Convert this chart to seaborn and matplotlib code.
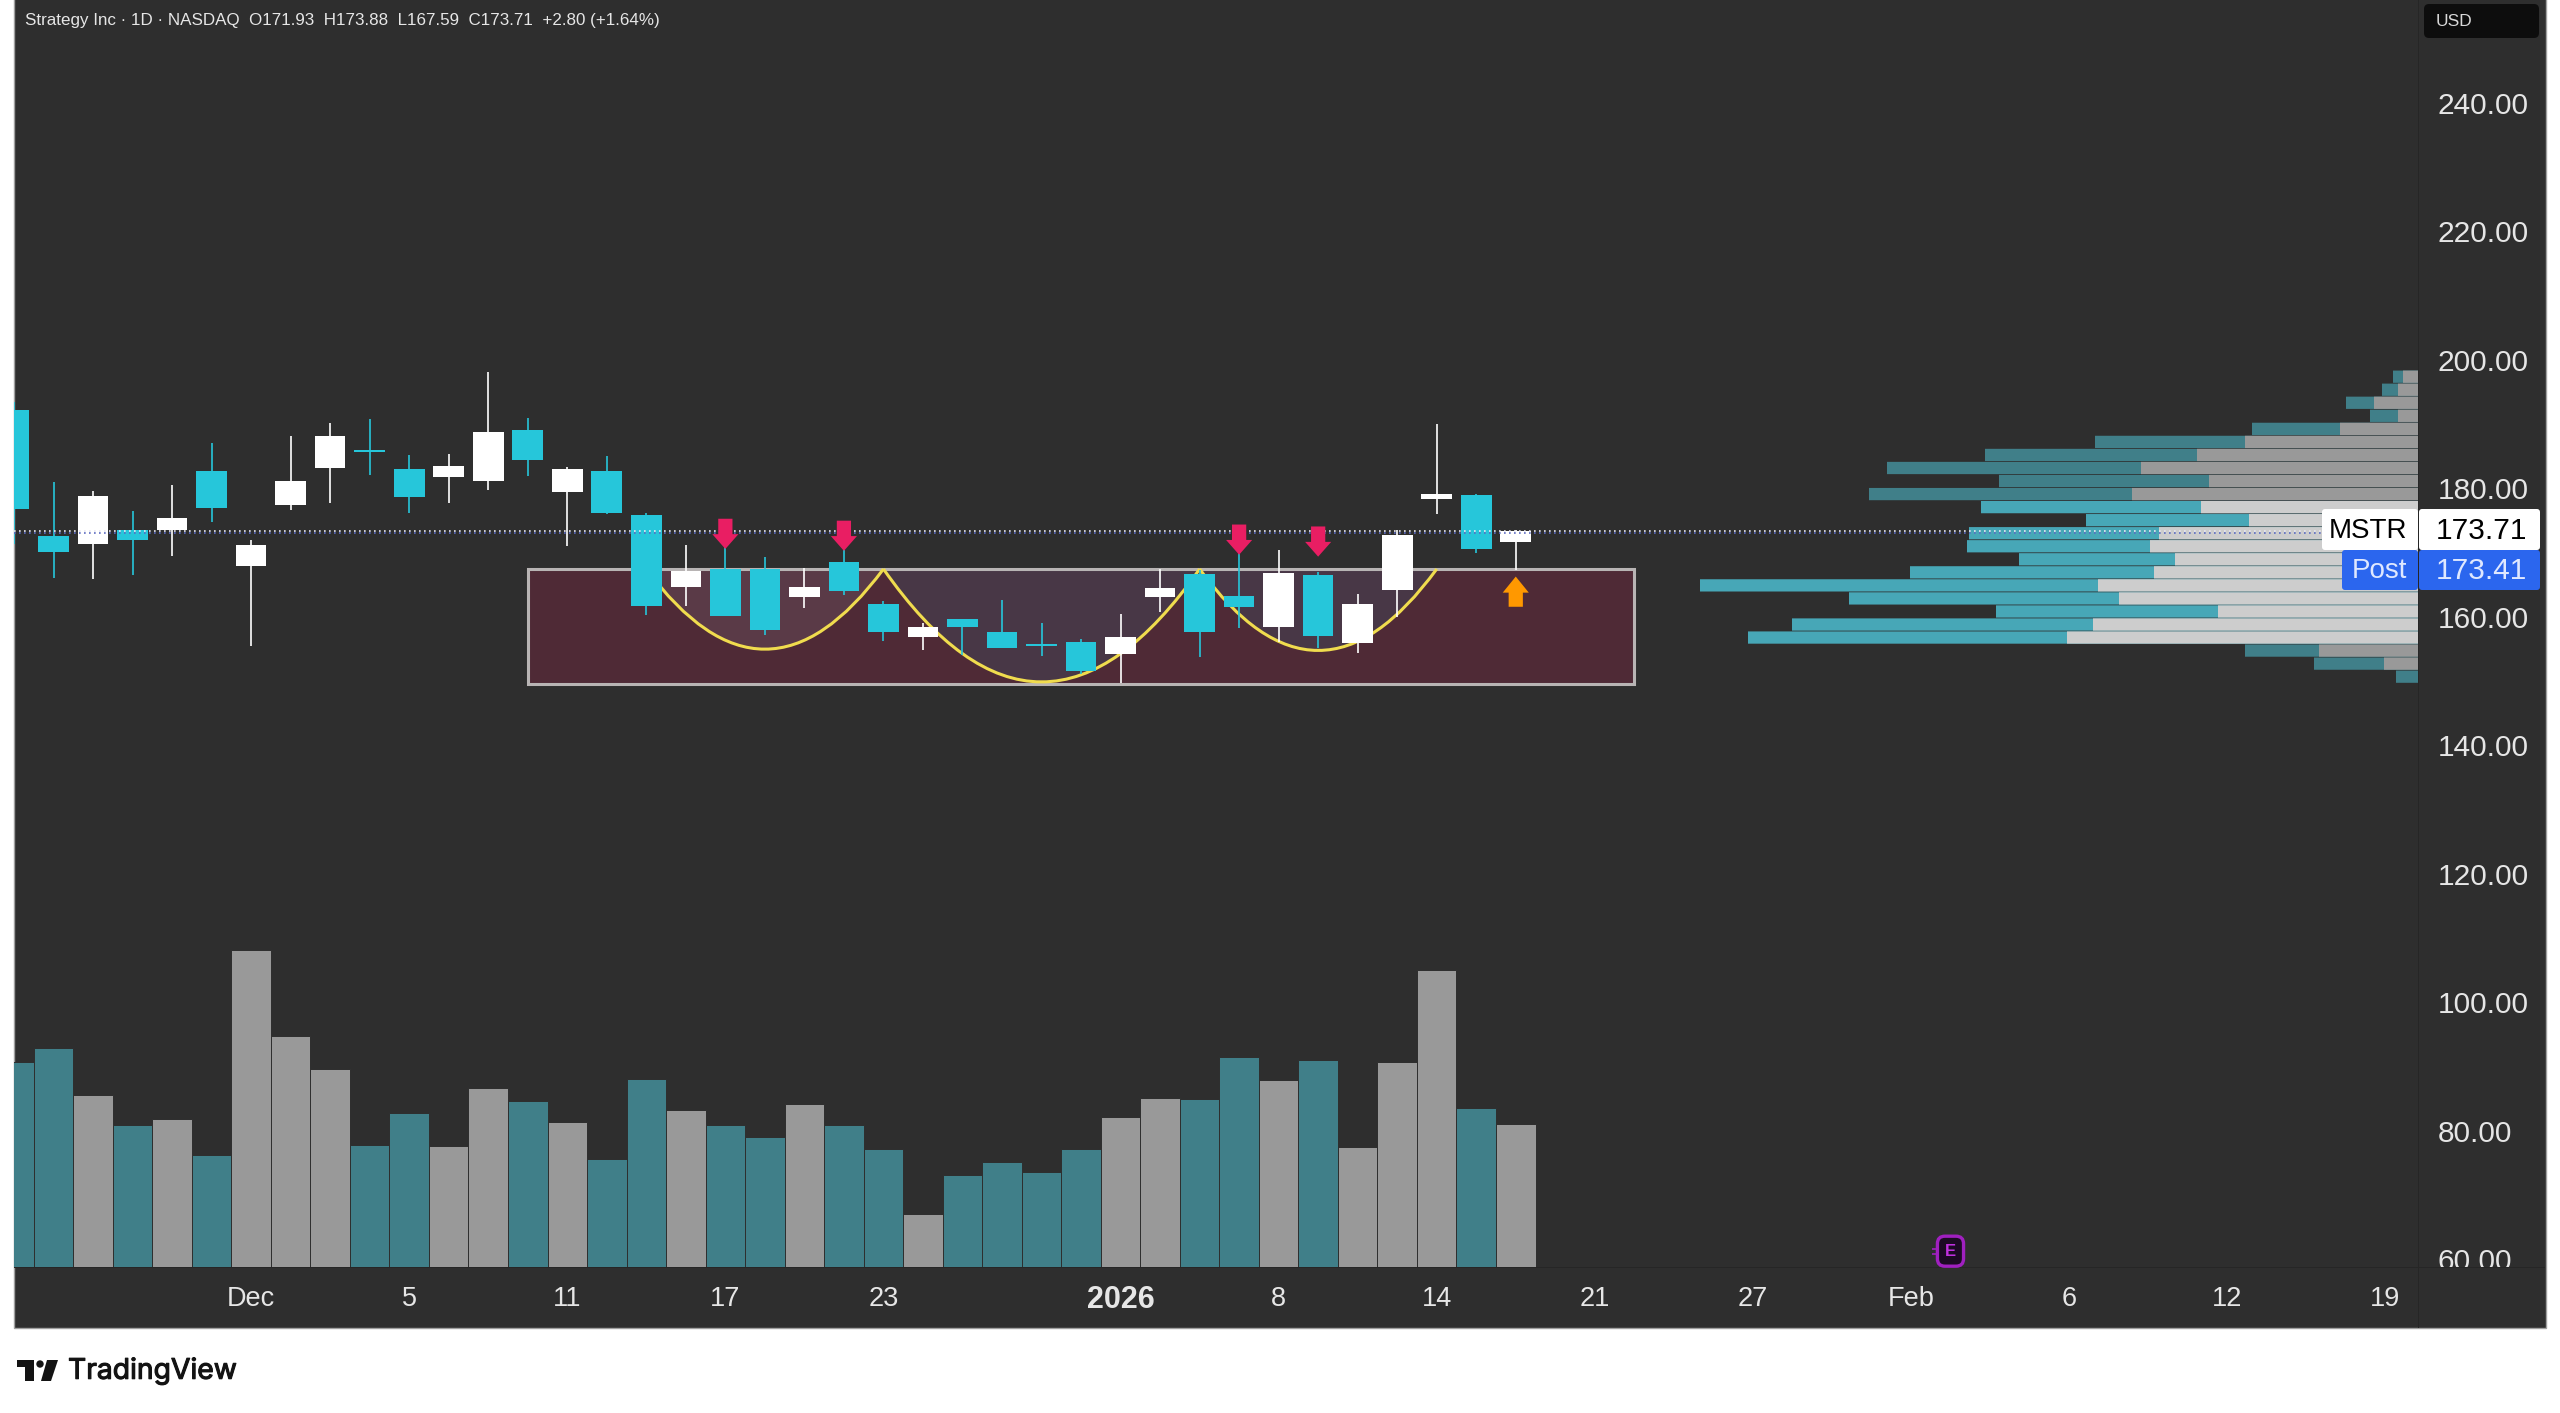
#%%
import matplotlib.pyplot as plt
import matplotlib.patches as mpatches
import matplotlib.patheffects as pe
from matplotlib.path import Path
from matplotlib.transforms import Bbox, IdentityTransform, ScaledTranslation
import numpy as np
import pandas as pd
import seaborn as sns

#%% candles, oldest first (white = up, cyan = down)
highs = [193.82, 181.37, 179.92, 176.86, 180.80, 187.44, 172.29, 188.48, 190.55, 191.07,
         185.47, 185.68, 198.49, 191.23, 183.65, 185.31, 176.55, 171.57, 171.25, 169.65,
         167.89, 170.74, 162.81, 159.33, 160.00, 162.96, 159.43, 156.94, 160.83, 167.73,
         167.63, 170.23, 170.69, 167.32, 163.84, 173.86, 190.35, 179.41, 173.88]
body_tops = [192.53, 172.86, 179.19, 173.85, 175.66, 183.08, 171.57, 181.42, 188.48, 186.25,
             183.39, 183.86, 189.15, 189.46, 183.39, 183.08, 176.13, 167.52, 167.83, 167.83,
             164.93, 168.93, 162.34, 158.71, 159.95, 157.98, 156.06, 156.37, 157.20, 164.83,
             167.01, 163.53, 167.11, 166.80, 162.34, 173.08, 179.46, 179.25, 173.71]
body_bottoms = [177.12, 170.48, 171.62, 172.24, 173.80, 177.22, 168.19, 177.79, 183.45, 186.04,
                178.98, 182.15, 181.47, 184.74, 179.81, 176.44, 162.02, 164.92, 160.41, 158.23,
                163.48, 164.31, 157.93, 157.15, 158.76, 155.44, 155.85, 151.96, 154.56, 163.48,
                157.93, 161.82, 158.71, 157.36, 156.27, 164.47, 178.63, 170.95, 171.93]
lows = [171.67, 166.33, 166.17, 166.90, 169.85, 175.15, 155.74, 177.01, 178.00, 182.41,
        176.44, 178.10, 180.07, 182.30, 171.41, 176.34, 160.62, 162.02, 160.41, 157.51,
        161.66, 163.74, 156.58, 155.18, 154.40, 155.44, 154.25, 151.44, 149.99, 161.04,
        154.09, 158.55, 156.48, 155.44, 154.76, 160.37, 176.29, 170.22, 167.59]
is_up = [0, 0, 1, 0, 1, 0, 1, 1, 1, 0, 0, 1, 1, 0, 1, 0, 0, 1, 0, 0,
         1, 0, 0, 1, 0, 0, 0, 0, 1, 1, 0, 0, 1, 0, 1, 1, 1, 0, 1]

# volume, the scale is a guess, the picture has no volume axis
volumes = [20.5, 21.9, 17.2, 14.2, 14.8, 11.2, 31.7, 23.1, 19.8, 12.2,
           15.4, 12.1, 17.9, 16.6, 14.5, 10.8, 18.8, 15.7, 14.2, 13.0,
           16.3, 14.2, 11.8, 5.3, 9.2, 10.5, 9.5, 11.8, 15.0, 16.9,
           16.8, 21.0, 18.7, 20.7, 12.0, 20.5, 29.7, 15.9, 14.3]
vol_up = [0, 0, 1, 0, 1, 0, 1, 1, 1, 0, 0, 1, 1, 0, 1, 0, 0, 1, 0, 0,
          1, 0, 0, 1, 0, 0, 0, 0, 1, 1, 0, 0, 1, 0, 1, 1, 1, 0, 1]

# volume profile rows, top to bottom
vp_price = [197.71, 195.68, 193.65, 191.62, 189.59, 187.56, 185.53, 183.50, 181.47, 179.44, 177.41, 175.38,
            173.35, 171.32, 169.29, 167.26, 165.23, 163.20, 161.17, 159.14, 157.11, 155.08, 153.05, 151.02]
vp_up = [15, 20, 44, 20, 78, 173, 221, 277, 209, 286, 217, 169,
         259, 268, 243, 264, 320, 299, 200, 325, 351, 99, 34, 0]
vp_down = [10, 16, 28, 28, 88, 150, 212, 254, 210, 263, 220, 163,
           190, 183, 156, 244, 398, 270, 222, 301, 319, 74, 70, 22]
vp_in_area = [0, 0, 0, 0, 0, 0, 0, 0, 0, 0, 1, 1, 1, 1, 1, 1, 1, 1, 1, 1, 1, 0, 0, 0]

# x labels sit on bar numbers
xtick_pos = [6, 10, 14, 18, 22, 28, 32, 36, 40, 44, 48, 52, 56, 60]
xtick_labels = ['Dec', '5', '11', '17', '23', '2026', '8', '14', '21', '27', 'Feb', '6', '12', '19']
ytick_vals = [60, 80, 100, 120, 140, 160, 180, 200, 220, 240]

# drawings on the chart
box_x = [13, 41]
box_y = [149.95, 167.78]
arc_start = [16, 22, 30]
arc_end = [22, 30, 36]
arc_low = [155.3, 150.2, 155.1]
arc_fill = ['#5a3a47', '#483746', '#483746']
down_arrow_x = [18, 21, 31, 33]
down_arrow_tip = [170.9, 170.6, 170.0, 169.7]
up_arrow_x = [38]
up_arrow_tip = [166.6]

last_price = 173.71
post_price = 173.41

bg = '#2e2e2e'
cyan = '#26c6da'

#%%
sns.set_theme(style='dark', rc={'axes.facecolor': bg, 'text.color': '#e6e6e6'})
plt.rcParams['font.family'] = ['Liberation Sans', 'DejaVu Sans']

W, H = 2560, 1413
fig = plt.figure(figsize=(W / 100, H / 100), dpi=100, facecolor='white')
pos = [14 / W, 1 - 1267 / H, (2418 - 14) / W, 1267 / H]
xlim = (0, 60.83)
ylim = (59.14, 256.34)


# boxes that are not data, given in pixels from the top left
def px_box(x0, y0, x1, y1, color, ec='none', lw=0, z=2, round_px=0):
    style = 'round,pad=0,rounding_size=%d' % round_px if round_px else 'square,pad=0'
    p = mpatches.FancyBboxPatch((x0, H - y1), x1 - x0, y1 - y0, boxstyle=style, fc=color, ec=ec,
                                lw=lw, transform=IdentityTransform(), zorder=z)
    fig.add_artist(p)


px_box(14, -5, 2545.5, 1328, bg, ec='#a0a0a0', lw=1, z=-2)
px_box(2417.5, 0, 2418.5, 1328, '#262626', z=-1)
px_box(14, 1267, 2545, 1268, '#262626', z=-1)

#%% volume behind everything
vol_ax = fig.add_axes(pos)
vol_df = pd.DataFrame({'bar': np.arange(len(volumes)), 'volume': volumes,
                       'side': ['up' if u else 'down' for u in vol_up]})
sns.barplot(data=vol_df, x='bar', y='volume', hue='side', hue_order=['up', 'down'],
            palette={'up': '#999999', 'down': '#407f89'}, dodge=False, native_scale=True,
            width=1, saturation=1, edgecolor=bg, linewidth=0.7, legend=False, ax=vol_ax)
vol_ax.set_xlim(xlim)
vol_ax.set_ylim(0, 126.7)
vol_ax.set_axis_off()

#%% profile, right anchored, 1 unit = 1 pixel
vp_ax = fig.add_axes(pos)
vp_ax.patch.set_visible(False)
vp_df = pd.DataFrame({'price': vp_price, 'up': vp_up, 'down': vp_down,
                      'area': ['in' if a else 'out' for a in vp_in_area]})
vp_df['total'] = vp_df['up'] + vp_df['down']
sns.barplot(data=vp_df, y='price', x='total', hue='area', hue_order=['in', 'out'], orient='y',
            palette={'in': '#47a7b7', 'out': '#407f89'}, dodge=False, native_scale=True,
            width=0.94, saturation=1, linewidth=0, legend=False, ax=vp_ax)
sns.barplot(data=vp_df, y='price', x='up', hue='area', hue_order=['in', 'out'], orient='y',
            palette={'in': '#cdcdcd', 'out': '#999999'}, dodge=False, native_scale=True,
            width=0.94, saturation=1, linewidth=0, legend=False, ax=vp_ax)
# snapping makes the row gaps uneven
for p in vp_ax.patches:
    p.set_snap(False)
vp_ax.set_xlim(2404, 0)
vp_ax.set_ylim(ylim)
vp_ax.set_axis_off()

#%% price pane
ax = fig.add_axes(pos)
ax.patch.set_visible(False)
idx = np.arange(len(highs))
colors = ['white' if u else cyan for u in is_up]

# box and arcs
ax.add_patch(mpatches.Rectangle((box_x[0], box_y[0]), box_x[1] - box_x[0], box_y[1] - box_y[0],
                                fc='#4f2a36', ec='none', zorder=1))
for x0, x1, low, fill in zip(arc_start, arc_end, arc_low, arc_fill):
    ctrl = ((x0 + x1) / 2, 2 * low - box_y[1])
    verts = [(x0, box_y[1]), ctrl, (x1, box_y[1])]
    ax.add_patch(mpatches.PathPatch(Path(verts + [verts[0]], [1, 3, 3, 79]),
                                    fc=fill, ec='none', zorder=1.5))
    ax.add_patch(mpatches.PathPatch(Path(verts, [1, 3, 3]), fc='none', ec='#f0dc4e',
                                    lw=2.2, zorder=2.5))
ax.add_patch(mpatches.Rectangle((box_x[0], box_y[0]), box_x[1] - box_x[0], box_y[1] - box_y[0],
                                fc='none', ec='#b8b4b4', lw=2.2, zorder=2))

# candles
ax.vlines(idx, lows, highs, colors=colors, lw=1.2, zorder=3)
ax.bar(idx, np.array(body_tops) - np.array(body_bottoms), bottom=body_bottoms, width=0.775,
       color=colors, linewidth=0, zorder=3.1)

# last price lines
ax.axhline(last_price, xmax=(2322 - 14) / 2404, color='#e8e8f0', lw=1.2, ls=(0, (1, 2)), zorder=4)
ax.axhline(post_price, xmax=(2322 - 14) / 2404, color='#5c6bc0', lw=1.2, ls=(0, (1, 2)), zorder=4)

# arrows
for x, tip in zip(down_arrow_x, down_arrow_tip):
    ax.fill([x, x - 0.33, x - 0.18, x - 0.18, x + 0.18, x + 0.18, x + 0.33],
            [tip, tip + 2.3, tip + 2.3, tip + 4.7, tip + 4.7, tip + 2.3, tip + 2.3],
            color='#e91e63', linewidth=0, zorder=5)
for x, tip in zip(up_arrow_x, up_arrow_tip):
    ax.fill([x, x - 0.33, x - 0.18, x - 0.18, x + 0.18, x + 0.18, x + 0.33],
            [tip, tip - 2.5, tip - 2.5, tip - 4.7, tip - 4.7, tip - 2.5, tip - 2.5],
            color='#ff9800', linewidth=0, zorder=5)

# earnings marker
ax.text(49, 61.6, 'E', color='#c030e0', fontsize=12, fontweight='bold', ha='center', va='center',
        bbox=dict(boxstyle='round,pad=0.45', fc='#1c0a24', ec='#a020c0', lw=2.4), zorder=5)
ax.hlines([61.9, 61.2], 48.52, 48.68, color='#a020c0', lw=1.2, zorder=5)

ax.set_xlim(xlim)
ax.set_ylim(ylim)
ax.set_xticks(xtick_pos, xtick_labels)
ax.yaxis.tick_right()
ax.set_yticks(ytick_vals, ['%.2f' % v for v in ytick_vals])
ax.tick_params(axis='x', length=0, pad=14, labelsize=19.5, labelcolor='#e6e6e6')
ax.tick_params(axis='y', length=0, pad=14, labelsize=21.5, labelcolor='#e6e6e6')
bold_lab = ax.get_xticklabels()[xtick_labels.index('2026')]
bold_lab.set_fontweight('bold')
bold_lab.set_fontsize(22)
bold_lab.set_transform(bold_lab.get_transform() + ScaledTranslation(0, 1.5 / 100, fig.dpi_scale_trans))
ax.grid(False)
sns.despine(ax=ax, left=True, bottom=True, right=True, top=True)

# 60.00 gets cut by the time axis, labels also sit a bit high
cut = Bbox([[0, H - 1267], [W, H]])
for lab in ax.get_yticklabels():
    lab.set_transform(lab.get_transform() + ScaledTranslation(0, 2 / 100, fig.dpi_scale_trans))
    lab.set_clip_box(cut)
    lab.set_clip_on(True)

#%% legend line, price tags, logo
fig.text(25 / W, 1 - 20 / H, 'Strategy Inc · 1D · NASDAQ  O171.93  H173.88  L167.59  C173.71  +2.80 (+1.64%)',
         fontsize=12.26, color='#e6e6e6', va='center', ha='left')

px_box(2424, 4, 2539, 38, '#0d0d0d', z=2, round_px=5)
fig.text(2436 / W, 1 - 21 / H, 'USD', fontsize=12.5, color='#d8d8d8', va='center', ha='left', zorder=3)

px_box(2322, 509, 2418, 550, 'white', z=2, round_px=3)
px_box(2419, 509, 2540, 550, 'white', z=2, round_px=3)
px_box(2342, 550, 2418, 590, '#2b66ee', z=2, round_px=3)
px_box(2419, 550, 2540, 590, '#2b66ee', z=2, round_px=3)
fig.text(2407 / W, 1 - 531 / H, 'MSTR', fontsize=20, color='black', va='center', ha='right', zorder=3)
fig.text(2527 / W, 1 - 531 / H, '%.2f' % last_price, fontsize=21.5, color='black', va='center', ha='right', zorder=3)
fig.text(2407 / W, 1 - 571 / H, 'Post', fontsize=20, color='#dfe8ff', va='center', ha='right', zorder=3)
fig.text(2527 / W, 1 - 571 / H, '%.2f' % post_price, fontsize=21.5, color='#dfe8ff', va='center', ha='right', zorder=3)

# TradingView mark
logo = [[(17, 1360), (34, 1360), (34, 1381), (25, 1381), (25, 1367), (17, 1367)],
        [(47, 1360), (58, 1360), (51, 1381), (41, 1381)]]
for shape in logo:
    fig.add_artist(mpatches.Polygon([(x, H - y) for x, y in shape], fc='#131313', ec='none',
                                    transform=IdentityTransform()))
fig.add_artist(mpatches.Circle((40, H - 1364), 3.7, fc='#131313', ec='none', transform=IdentityTransform()))
fig.text(68 / W, 1 - 1371 / H, 'TradingView', fontsize=20.35, fontfamily='Inter', color='#131313',
         va='center', ha='left', path_effects=[pe.withStroke(linewidth=0.8, foreground='#131313')])

fig.savefig('out.png', dpi=100)
